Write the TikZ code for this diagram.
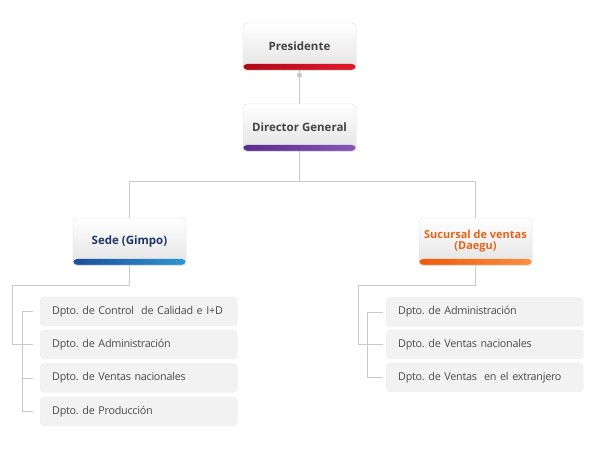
\documentclass[tikz,border=0pt]{standalone}
\usepackage{fontspec}
\setmainfont{Open Sans}
\newfontfamily\deptfont[LetterSpace=-2.5]{Open Sans}
\newfontfamily\hdrfont{Open Sans}
\usetikzlibrary{shadows,calc}
\definecolor{linegray}{HTML}{C9C9C9}
\definecolor{txtgray}{HTML}{444444}
\definecolor{depttxt}{HTML}{4A4A4A}
\definecolor{boxgray}{HTML}{F2F2F2}
\definecolor{navy}{HTML}{1E3766}
\definecolor{orangetxt}{HTML}{E4641A}
\definecolor{redA}{HTML}{B00818}\definecolor{redB}{HTML}{E01A2A}
\definecolor{purA}{HTML}{5A2A8C}\definecolor{purB}{HTML}{8A55B8}
\definecolor{bluA}{HTML}{1B4E9A}\definecolor{bluB}{HTML}{2E96D6}
\definecolor{orgA}{HTML}{F05A0A}\definecolor{orgB}{HTML}{F89040}
\tikzset{
  hdr/.style 2 args={minimum width=113pt, minimum height=47pt, rounded corners=4pt,
    top color=white, bottom color=gray!22, draw=gray!25, line width=0.4pt,
    drop shadow={shadow xshift=0pt, shadow yshift=-1pt, opacity=0.12, fill=black},
    font=\hdrfont\bfseries\fontsize{11.5}{13}\selectfont, text=txtgray, inner sep=0pt, align=center,
    path picture={\shade[left color=#1, right color=#2]
      ([yshift=6pt]path picture bounding box.south west) rectangle (path picture bounding box.south east);}},
  dept/.style={anchor=west, minimum width=197pt, minimum height=29pt, rounded corners=4pt,
    fill=boxgray, draw=gray!14, line width=0.4pt, text=depttxt,
    font=\deptfont\fontsize{10.8}{12}\selectfont, inner xsep=12pt, inner ysep=0pt,
    text width=173pt, align=left},
  conn/.style={draw=linegray, line width=0.8pt}
}
\begin{document}
\frenchspacing
\begin{tikzpicture}[x=1pt,y=-1pt]
\useasboundingbox[fill=white] (0,0) rectangle (598,454);
% headers
\node[hdr={redA}{redB}] (pres) at (299.5,46.5) {Presidente};
\node[hdr={purA}{purB}] (dir) at (299.5,127.5) {Director General};
\node[hdr={bluA}{bluB}, text=navy] (sede) at (129.5,241.5) {Sede (Gimpo)};
\node[hdr={orgA}{orgB}, text=orangetxt, font=\hdrfont\bfseries\fontsize{11}{12}\selectfont] (suc) at (475.5,241.5) {Sucursal de ventas\\[-1pt](Daegu)};
% departments left
\node[dept] (l1) at (40,311.5) {\mbox{Dpto. de Control~ de Calidad e I+D}};
\node[dept] (l2) at (40,344.5) {\mbox{Dpto. de Administración}};
\node[dept] (l3) at (40,378) {\mbox{Dpto. de Ventas nacionales}};
\node[dept] (l4) at (40,411.5) {\mbox{Dpto. de Producción}};
% departments right
\node[dept] (r1) at (386,312) {\mbox{Dpto. de Administración}};
\node[dept] (r2) at (386,344.5) {\mbox{Dpto. de Ventas nacionales}};
\node[dept] (r3) at (386,377.5) {\mbox{Dpto. de Ventas~ en el extranjero}};
% connectors
\draw[conn] (pres.south) -- (dir.north);
\fill[linegray] ($(pres.south)+(0,5)$) circle (2.6pt);
\coordinate (hub) at ($(dir.south)+(0,30)$);
\draw[conn] (dir.south) -- (hub);
\draw[conn] (sede.north) |- (hub) -| (suc.north);
% left group
\draw[conn] (sede.south) -- ++(0,20) -| ($(l2.west)+(-28,0)$) -- ($(l2.west)+(-7,0)$);
\draw[conn] ($(l1.west)+(-7,0)$) -- ($(l1.west)+(-18,0)$) -- ($(l4.west)+(-18,0)$) -- ($(l4.west)+(-7,0)$);
\draw[conn] ($(l3.west)+(-18,0)$) -- ($(l3.west)+(-7,0)$);
% right group
\draw[conn] (suc.south) -- ++(0,20) -| ($(r2.west)+(-28,0)$) -- ($(r2.west)+(-3,0)$);
\draw[conn] ($(r1.west)+(-3,0)$) -- ($(r1.west)+(-19,0)$) -- ($(r3.west)+(-19,0)$) -- ($(r3.west)+(-3,0)$);
\end{tikzpicture}
\end{document}
